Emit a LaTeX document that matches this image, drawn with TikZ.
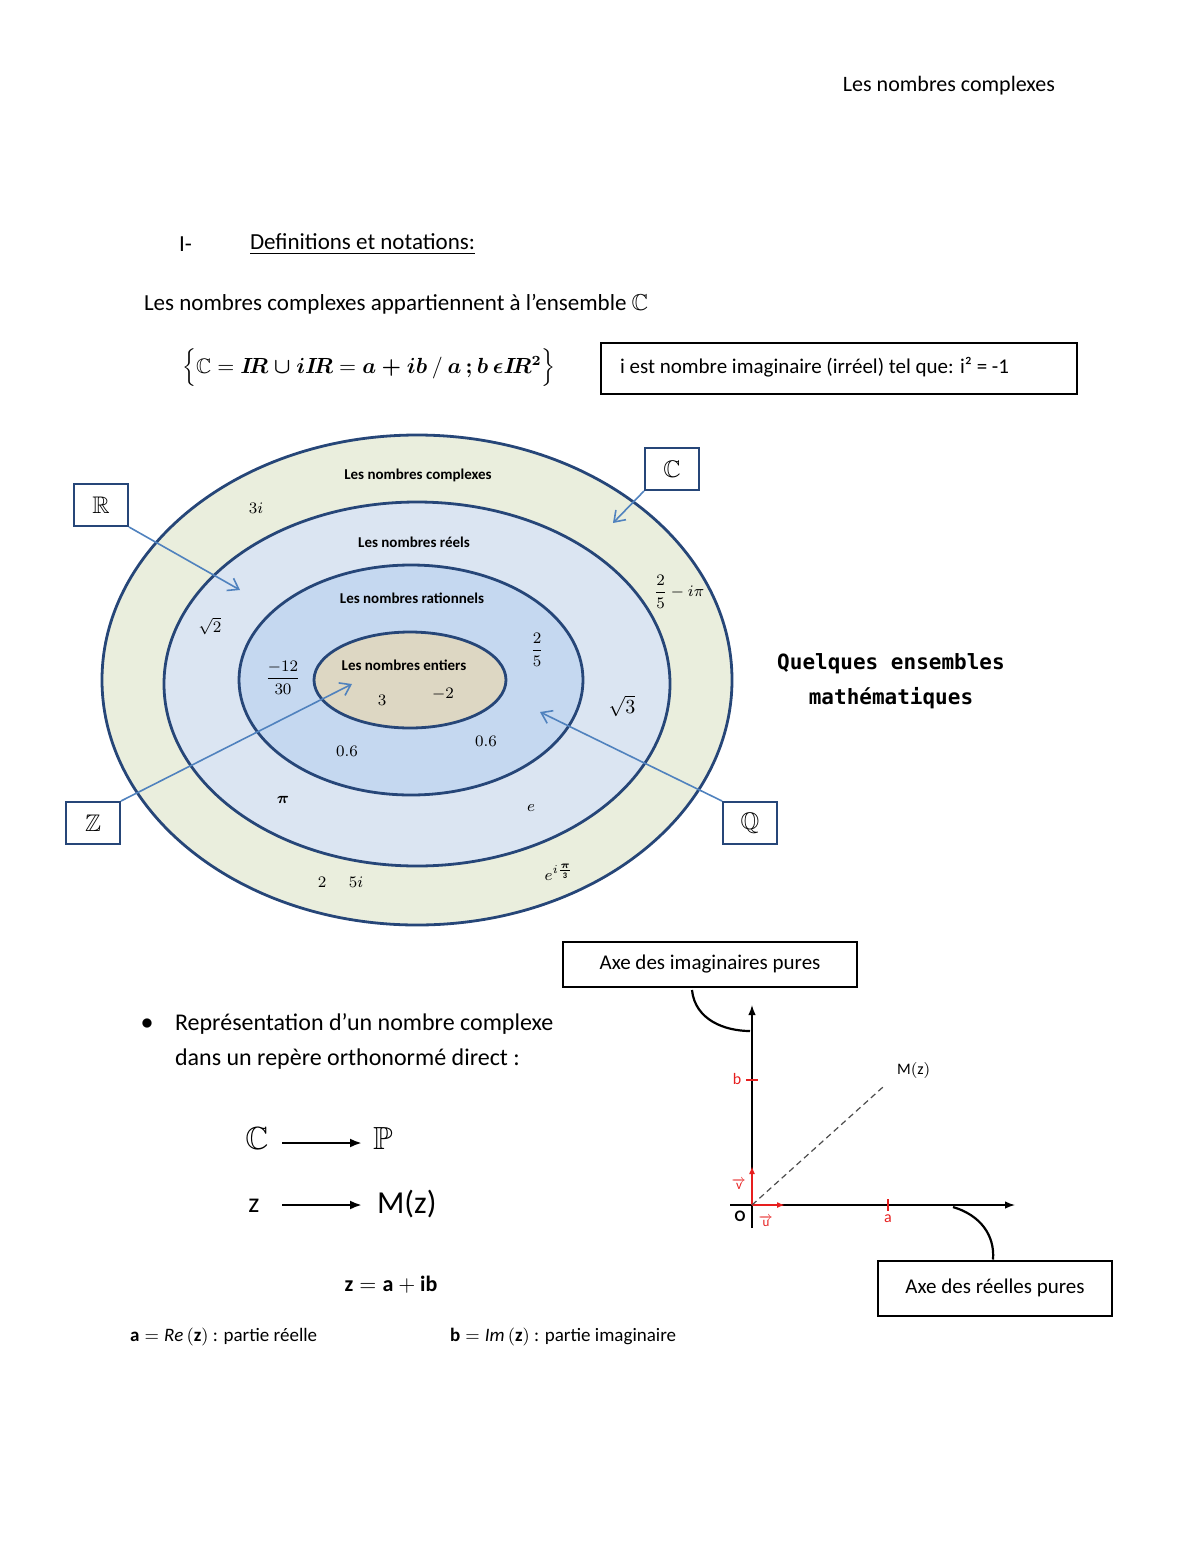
\documentclass[tikz,border=0pt]{standalone}
\usepackage{amsmath,amssymb}
\usepackage{fontspec}
\setmainfont{Carlito}
\newfontfamily\monof{DejaVu Sans Mono}
\usetikzlibrary{arrows.meta}
\definecolor{cC}{RGB}{234,238,221}
\definecolor{cR}{RGB}{219,229,242}
\definecolor{cQ}{RGB}{197,216,240}
\definecolor{cZ}{RGB}{221,215,195}
\definecolor{eb}{RGB}{38,70,120}
\definecolor{ab}{RGB}{80,130,190}
\definecolor{rd}{RGB}{230,30,30}
\begin{document}
\begin{tikzpicture}[x=0.5pt,y=-0.5pt,
  ell/.style={draw=eb,line width=1.4pt},
  lbox/.style={draw=eb,line width=1pt,fill=white,minimum width=27pt,minimum height=21pt,inner sep=0pt,font=\large},
  larr/.style={draw=ab,line width=0.8pt,-{Straight Barb[length=5pt,width=7pt]}},
  tbox/.style={draw,line width=1pt,inner sep=0pt},
  ax/.style={line width=0.7pt,-{Latex[length=5pt]}},
  rv/.style={rd,line width=0.8pt,-{Latex[length=4pt]}},
  fs/.style={font=\fontsize{8.5}{9}\selectfont}]
\useasboundingbox (0,0) rectangle (1200,1553);
% header
\node[anchor=east,font=\fontsize{11}{13}\selectfont] (hd) at (1062,86) {Les nombres complexes};
\node[anchor=west,font=\fontsize{11.5}{13}\selectfont] (sec) at (172,244) {I-};
\node[anchor=west,font=\fontsize{11.5}{13}\selectfont] (def) at (243,244) {\underline{Definitions et notations:}};
\node[anchor=west,font=\fontsize{11.5}{13}\selectfont] (intro) at (137,304) {Les nombres complexes appartiennent à l’ensemble $\boldsymbol{\mathbb{C}}$};
\node[anchor=west,font=\fontsize{10.5}{13}\selectfont] (form) at (175,368) {$\Bigl\{\boldsymbol{\mathbb{C}}=\boldsymbol{I\!R\cup iI\!R}=\boldsymbol{a+ib}\ /\ \boldsymbol{a\,;b\ \epsilon I\!R^2}\Bigr\}$};
\draw[tbox] (601,343) rectangle (1077,394);
\node[anchor=west,font=\fontsize{10.5}{12}\selectfont] (idef) at (613,367) {i est nombre imaginaire (irréel) tel que: i² = -1};
% ellipses
\draw[ell,fill=cC] (417,680) ellipse [x radius=315,y radius=245];
\draw[ell,fill=cR] (417,684) ellipse [x radius=253,y radius=182];
\draw[ell,fill=cQ] (411,680) ellipse [x radius=172,y radius=115];
\draw[ell,fill=cZ] (410,680) ellipse [x radius=96,y radius=48];
\node[font=\fontsize{7.5}{8}\selectfont\bfseries] (t1) at (418,475) {Les nombres complexes};
\node[font=\fontsize{7.5}{8}\selectfont\bfseries] (t2) at (414,542) {Les nombres réels};
\node[font=\fontsize{7.5}{8}\selectfont\bfseries] (t3) at (412,598) {Les nombres rationnels};
\node[font=\fontsize{7.5}{8}\selectfont\bfseries] (t4) at (404,665) {Les nombres entiers};
\node[fs] (n1) at (256,508) {$3i$};
\node[fs] (n2) at (679,592) {$\dfrac{2}{5}-i\pi$};
\node[fs] (n3) at (210,626) {$\sqrt{2}$};
\node[fs] (n4) at (537,650) {$\dfrac{2}{5}$};
\node[fs] (n5) at (283,678) {$\dfrac{-12}{30}$};
\node[fs] (n6) at (382,700) {$3$};
\node[fs] (n7) at (443,694) {$-2$};
\node[font=\fontsize{10}{11}\selectfont] (n8) at (622,706) {$\sqrt{3}$};
\node[fs] (n9) at (347,751) {$0.6$};
\node[fs] (n10) at (486,741) {$0.6$};
\node[fs] (n11) at (283,800) {$\boldsymbol{\pi}$};
\node[fs] (n12) at (531,808) {$e$};
\node[fs] (n13) at (322,882) {$2$};
\node[fs] (n14) at (356,882) {$5i$};
\node[fs,inner sep=0pt] (n15) at (559,872) {$e^{i\frac{\boldsymbol{\pi}}{\mathbf{3}}}$};
% label boxes
\node[lbox] (bR) at (101,505) {$\mathbb{R}$};
\node[lbox] (bC) at (672,469) {$\mathbb{C}$};
\node[lbox] (bZ) at (93,823) {$\mathbb{Z}$};
\node[lbox] (bQ) at (750,823) {$\mathbb{Q}$};
\coordinate (pR) at (240,590);
\coordinate (pC) at (613,523);
\coordinate (pZ) at (352,684);
\coordinate (pQ) at (540,712);
\draw[larr] (bR.south east) -- (pR);
\draw[larr] (bC.south west) -- (pC);
\draw[larr] (bZ.north east) -- (pZ);
\draw[larr] (bQ.north west) -- (pQ);
\node[align=center,font=\monof\bfseries\fontsize{10.5}{17.5}\selectfont] (qe) at (891,681) {Quelques ensembles\\mathématiques};
% representation
\node[font=\fontsize{12}{14}\selectfont] (bul) at (147,1024) {$\bullet$};
\node[anchor=west,align=left,font=\fontsize{12}{17.5}\selectfont] (rep) at (168,1041) {Représentation d'un nombre complexe\\dans un repère orthonormé direct :};
\node[font=\fontsize{16}{18}\selectfont] (sC) at (257,1138) {$\mathbb{C}$};
\node[font=\fontsize{16}{18}\selectfont] (sP) at (383,1138) {$\mathbb{P}$};
\node[font=\fontsize{14}{18}\selectfont] (sz) at (254,1206) {z};
\node[font=\fontsize{16}{18}\selectfont,anchor=west] (sM) at (370,1204) {M(z)};
\draw[line width=1.3pt,-{Latex[length=6pt]}] (282,1143) -- (362,1143);
\draw[line width=1.3pt,-{Latex[length=6pt]}] (282,1205) -- (362,1205);
\node[font=\fontsize{11}{13}\selectfont] (zab) at (391,1285) {$\mathbf{z=a+ib}$};
\node[anchor=west,font=\fontsize{9.5}{12}\selectfont] (ra) at (123,1337) {$\mathbf{a}=\mathit{Re}\,(\mathbf{z})$ : partie réelle};
\node[anchor=west,font=\fontsize{9.5}{12}\selectfont] (rb) at (443,1337) {$\mathbf{b}=\mathit{Im}\,(\mathbf{z})$ : partie imaginaire};
% axes
\coordinate (O) at (752,1205);
\coordinate (yE) at (752,1005);
\coordinate (xE) at (1015,1205);
\coordinate (xS) at (730,1205);
\coordinate (yS) at (752,1228);
\draw[ax] (yS) -- (yE);
\draw[ax] (xS) -- (xE);
\draw[rv] (O) -- (785,1205);
\draw[rv] (O) -- (752,1166);
\draw[rd,line width=0.6pt] (746,1080) -- (758,1080);
\draw[rd,line width=0.6pt] (888,1199) -- (888,1211);
\node[rd,font=\fontsize{8}{9}\selectfont] (lb) at (737,1079) {b};
\node[rd,font=\fontsize{8}{9}\selectfont] (la) at (888,1219) {a};
\node[rd,font=\fontsize{6.5}{7}\selectfont,inner sep=0pt] (lv) at (739,1184) {$\overrightarrow{\mathrm{v}}$};
\node[rd,font=\fontsize{6.5}{7}\selectfont,inner sep=0pt] (lu) at (766,1221) {$\overrightarrow{\mathrm{u}}$};
\node[font=\fontsize{8}{9}\selectfont\bfseries,inner sep=0pt] (lO) at (740,1216) {O};
\node[font=\fontsize{8}{9}\selectfont,anchor=west] (Mz) at (890,1070) {$\mathrm{M(z)}$};
\coordinate (Mp) at (883,1087);
\draw[densely dashed,line width=0.6pt,gray!60!black] (O) -- (Mp);
\node[tbox,minimum width=147pt,minimum height=22.5pt,font=\fontsize{10.5}{12}\selectfont] (bim) at (710,964) {Axe des imaginaires pures};
\node[tbox,minimum width=117pt,minimum height=27.5pt,font=\fontsize{10.5}{12}\selectfont] (bre) at (995,1288) {Axe des réelles pures};
\coordinate (cim) at (750,1031);
\coordinate (cre) at (953,1207);
\draw[line width=1.1pt] (692,990) .. controls (695,1020) and (725,1031) .. (cim);
\draw[line width=1.1pt] (cre) .. controls (980,1215) and (995,1235) .. (bre.north -| 993,0);
\end{tikzpicture}
\end{document}
